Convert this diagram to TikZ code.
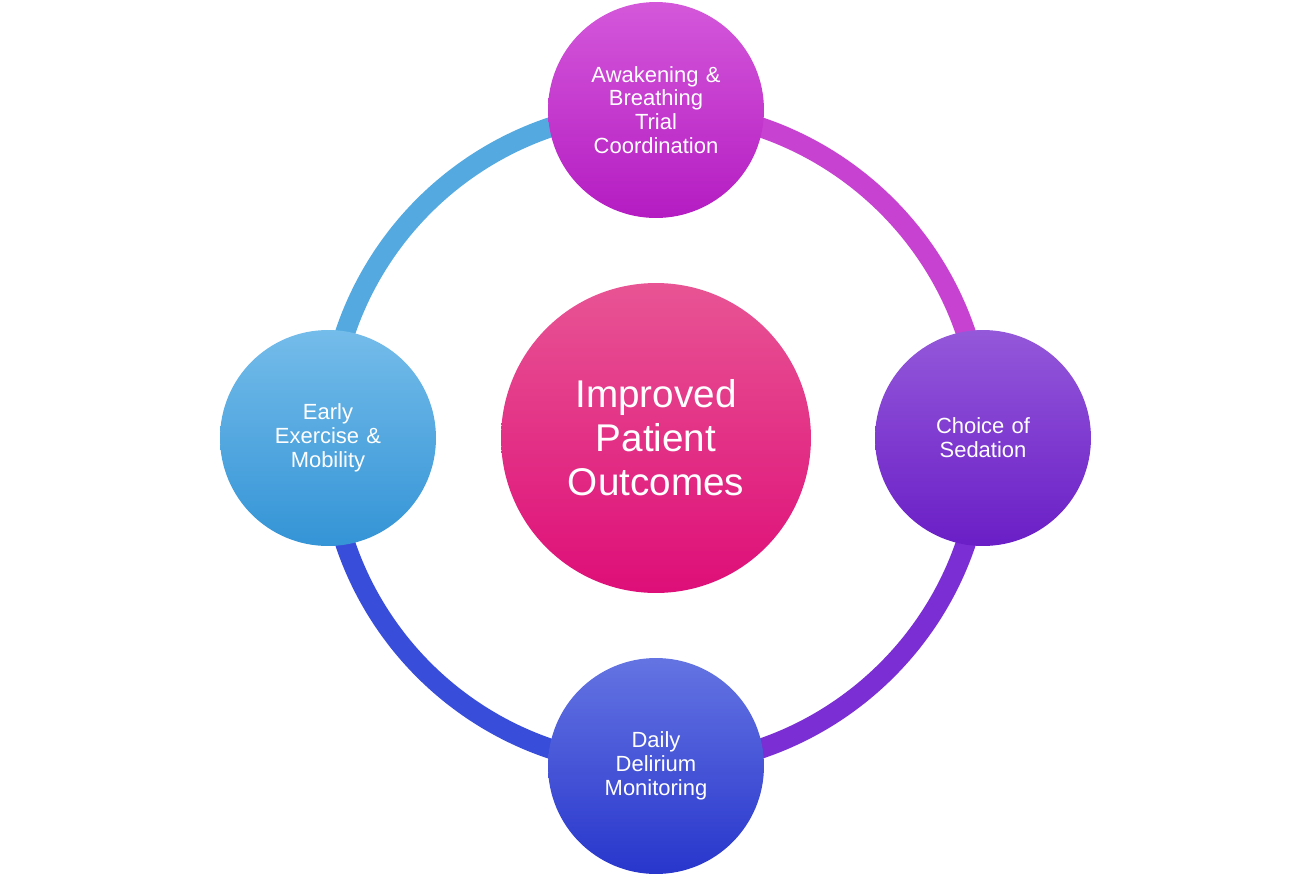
\documentclass[tikz,border=0pt]{standalone}
\usepackage{fontspec}
\setmainfont{Liberation Sans}
\usetikzlibrary{backgrounds}
\definecolor{topA}{HTML}{D458DA}\definecolor{topB}{HTML}{B41CC2}
\definecolor{midA}{HTML}{E85494}\definecolor{midB}{HTML}{DE0E78}
\definecolor{rgtA}{HTML}{9458DA}\definecolor{rgtB}{HTML}{6A1EC6}
\definecolor{botA}{HTML}{6474E2}\definecolor{botB}{HTML}{2836CC}
\definecolor{lftA}{HTML}{74BCEA}\definecolor{lftB}{HTML}{3494D6}
\begin{document}
\begin{tikzpicture}[x=0.02cm, y=-0.02cm,
    stage/.style = {circle, draw=none, minimum size=4.32cm, inner sep=0pt,
        text width=3.1cm, align=center, text=white, font=\fontsize{12.5}{13.5}\selectfont},
    hub/.style = {circle, draw=none, minimum size=6.2cm, inner sep=0pt,
        text width=4.5cm, align=center, text=white, font=\fontsize{22}{25}\selectfont},
    ring/.style = {line width=0.4cm}]
    \useasboundingbox (0,0) rectangle (1313,876);

    % nodes of the cycle
    \node[hub, top color=midA, bottom color=midB] (hub) at (656,438) {Improved\\Patient\\Outcomes};
    \node[stage, top color=topA, bottom color=topB] (abc) at (656,110) {Awakening \&\\Breathing\\Trial\\Coordination};
    \node[stage, top color=rgtA, bottom color=rgtB] (sed) at (983,438) {Choice of\\Sedation};
    \node[stage, top color=botA, bottom color=botB] (del) at (656,766) {Daily\\Delirium\\Monitoring};
    \node[stage, top color=lftA, bottom color=lftB] (mob) at (328,438) {Early\\Exercise \&\\Mobility};

    % ring behind the circles
    \begin{scope}[on background layer]
    \draw[ring, color={rgb,255:red,200;green,66;blue,210}] (abc.center) to[bend left=45] (sed.center);
    \draw[ring, color={rgb,255:red,122;green,46;blue,212}] (sed.center) to[bend left=45] (del.center);
    \draw[ring, color={rgb,255:red,56;green,78;blue,218}] (del.center) to[bend left=45] (mob.center);
    \draw[ring, color={rgb,255:red,84;green,170;blue,224}] (mob.center) to[bend left=45] (abc.center);
    \end{scope}
\end{tikzpicture}
\end{document}
